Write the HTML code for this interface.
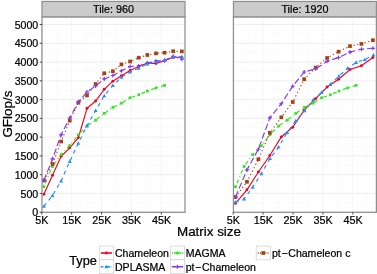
<!DOCTYPE html><html><head><meta charset="utf-8"><title>plot</title><style>html,body{margin:0;padding:0;background:#fff;overflow:hidden}body{width:377px;height:274px;position:relative}</style></head><body><svg width="377" height="274" viewBox="0 0 377 274" style="position:absolute;left:0;top:0" font-family="'Liberation Sans', Arial, sans-serif" fill="#000"><style>text{stroke:#000;stroke-width:0.22px;stroke-linejoin:round}</style>
<rect width="377" height="274" fill="#fff"/>
<rect x="42.0" y="1.45" width="143.0" height="15.650000000000002" fill="#cbcbcb" stroke="#8e8e8e" stroke-width="1.2"/>
<rect x="42.0" y="17.1" width="143.0" height="195.20000000000002" fill="#fff"/>
<line x1="42.0" x2="185.0" y1="202.82" y2="202.82" stroke="#efefef" stroke-width="0.7" stroke-dasharray="1 1.4"/>
<line x1="42.0" x2="185.0" y1="184.05" y2="184.05" stroke="#efefef" stroke-width="0.7" stroke-dasharray="1 1.4"/>
<line x1="42.0" x2="185.0" y1="165.28" y2="165.28" stroke="#efefef" stroke-width="0.7" stroke-dasharray="1 1.4"/>
<line x1="42.0" x2="185.0" y1="146.51" y2="146.51" stroke="#efefef" stroke-width="0.7" stroke-dasharray="1 1.4"/>
<line x1="42.0" x2="185.0" y1="127.75" y2="127.75" stroke="#efefef" stroke-width="0.7" stroke-dasharray="1 1.4"/>
<line x1="42.0" x2="185.0" y1="108.98" y2="108.98" stroke="#efefef" stroke-width="0.7" stroke-dasharray="1 1.4"/>
<line x1="42.0" x2="185.0" y1="90.21" y2="90.21" stroke="#efefef" stroke-width="0.7" stroke-dasharray="1 1.4"/>
<line x1="42.0" x2="185.0" y1="71.44" y2="71.44" stroke="#efefef" stroke-width="0.7" stroke-dasharray="1 1.4"/>
<line x1="42.0" x2="185.0" y1="52.68" y2="52.68" stroke="#efefef" stroke-width="0.7" stroke-dasharray="1 1.4"/>
<line x1="42.0" x2="185.0" y1="33.91" y2="33.91" stroke="#efefef" stroke-width="0.7" stroke-dasharray="1 1.4"/>
<line x1="56.70" x2="56.70" y1="17.1" y2="212.3" stroke="#f1f1f1" stroke-width="0.7" stroke-dasharray="1 1.4"/>
<line x1="86.60" x2="86.60" y1="17.1" y2="212.3" stroke="#f1f1f1" stroke-width="0.7" stroke-dasharray="1 1.4"/>
<line x1="116.50" x2="116.50" y1="17.1" y2="212.3" stroke="#f1f1f1" stroke-width="0.7" stroke-dasharray="1 1.4"/>
<line x1="146.40" x2="146.40" y1="17.1" y2="212.3" stroke="#f1f1f1" stroke-width="0.7" stroke-dasharray="1 1.4"/>
<line x1="176.30" x2="176.30" y1="17.1" y2="212.3" stroke="#f1f1f1" stroke-width="0.7" stroke-dasharray="1 1.4"/>
<line x1="42.0" x2="185.0" y1="212.20" y2="212.20" stroke="#e7e7e7" stroke-width="0.9" stroke-dasharray="2 0.5"/>
<line x1="42.0" x2="185.0" y1="193.43" y2="193.43" stroke="#e7e7e7" stroke-width="0.9" stroke-dasharray="2 0.5"/>
<line x1="42.0" x2="185.0" y1="174.66" y2="174.66" stroke="#e7e7e7" stroke-width="0.9" stroke-dasharray="2 0.5"/>
<line x1="42.0" x2="185.0" y1="155.90" y2="155.90" stroke="#e7e7e7" stroke-width="0.9" stroke-dasharray="2 0.5"/>
<line x1="42.0" x2="185.0" y1="137.13" y2="137.13" stroke="#e7e7e7" stroke-width="0.9" stroke-dasharray="2 0.5"/>
<line x1="42.0" x2="185.0" y1="118.36" y2="118.36" stroke="#e7e7e7" stroke-width="0.9" stroke-dasharray="2 0.5"/>
<line x1="42.0" x2="185.0" y1="99.59" y2="99.59" stroke="#e7e7e7" stroke-width="0.9" stroke-dasharray="2 0.5"/>
<line x1="42.0" x2="185.0" y1="80.83" y2="80.83" stroke="#e7e7e7" stroke-width="0.9" stroke-dasharray="2 0.5"/>
<line x1="42.0" x2="185.0" y1="62.06" y2="62.06" stroke="#e7e7e7" stroke-width="0.9" stroke-dasharray="2 0.5"/>
<line x1="42.0" x2="185.0" y1="43.29" y2="43.29" stroke="#e7e7e7" stroke-width="0.9" stroke-dasharray="2 0.5"/>
<line x1="42.0" x2="185.0" y1="24.53" y2="24.53" stroke="#e7e7e7" stroke-width="0.9" stroke-dasharray="2 0.5"/>
<line x1="41.75" x2="41.75" y1="17.1" y2="212.3" stroke="#e9e9e9" stroke-width="0.9" stroke-dasharray="1 1"/>
<line x1="71.65" x2="71.65" y1="17.1" y2="212.3" stroke="#e9e9e9" stroke-width="0.9" stroke-dasharray="1 1"/>
<line x1="101.55" x2="101.55" y1="17.1" y2="212.3" stroke="#e9e9e9" stroke-width="0.9" stroke-dasharray="1 1"/>
<line x1="131.45" x2="131.45" y1="17.1" y2="212.3" stroke="#e9e9e9" stroke-width="0.9" stroke-dasharray="1 1"/>
<line x1="161.35" x2="161.35" y1="17.1" y2="212.3" stroke="#e9e9e9" stroke-width="0.9" stroke-dasharray="1 1"/>
<clipPath id="c0"><rect x="42.0" y="17.1" width="143.0" height="195.20000000000002"/></clipPath><g clip-path="url(#c0)">
<polyline points="43.90,194.30 52.52,175.30 61.14,156.30 69.76,147.80 78.38,137.60 87.00,108.30 95.62,101.00 104.24,89.30 112.86,81.20 121.48,75.80 130.10,70.50 138.72,66.50 147.34,63.10 155.96,63.50 164.58,60.60 173.20,57.20 181.82,57.20" fill="none" stroke="#f5001f" stroke-width="1.15"/>
<polyline points="43.90,206.30 52.52,195.50 61.14,181.00 69.76,161.40 78.38,143.20 87.00,125.70 95.62,110.60 104.24,95.70 112.86,85.50 121.48,77.20 130.10,72.10 138.72,68.20 147.34,64.00 155.96,61.70 164.58,59.90 173.20,57.00 181.82,56.90" fill="none" stroke="#1e90ff" stroke-width="1.15" stroke-dasharray="3.8 3.8"/>
<polyline points="43.90,186.70 52.52,166.50 61.14,154.60 69.76,145.60 78.38,134.80 87.00,126.00 95.62,120.20 104.24,113.40 112.86,107.40 121.48,103.20 130.10,97.70 138.72,94.80 147.34,91.10 155.96,87.90 164.58,85.40" fill="none" stroke="#2ee61a" stroke-width="1.15" stroke-dasharray="1 2.8 3.8 2.8"/>
<polyline points="43.90,180.40 52.52,158.90 61.14,134.80 69.76,118.00 78.38,101.90 87.00,92.00 95.62,86.00 104.24,78.90 112.86,75.50 121.48,70.70 130.10,66.50 138.72,66.00 147.34,63.10 155.96,61.10 164.58,60.60 173.20,56.40 181.82,59.10" fill="none" stroke="#8438f0" stroke-width="1.15" stroke-dasharray="6.4 2.8"/>
<polyline points="43.90,180.40 52.52,164.00 61.14,141.50 69.76,120.60 78.38,102.70 87.00,95.50 95.62,84.00 104.24,73.30 112.86,71.20 121.48,64.40 130.10,61.50 138.72,57.70 147.34,55.00 155.96,53.40 164.58,52.70 173.20,51.20 181.82,51.40" fill="none" stroke="#a8400f" stroke-width="1.15" stroke-dasharray="1.2 2.6"/>
<circle cx="43.90" cy="194.30" r="1.45" fill="#f5001f"/><circle cx="52.52" cy="175.30" r="1.45" fill="#f5001f"/><circle cx="61.14" cy="156.30" r="1.45" fill="#f5001f"/><circle cx="69.76" cy="147.80" r="1.45" fill="#f5001f"/><circle cx="78.38" cy="137.60" r="1.45" fill="#f5001f"/><circle cx="87.00" cy="108.30" r="1.45" fill="#f5001f"/><circle cx="95.62" cy="101.00" r="1.45" fill="#f5001f"/><circle cx="104.24" cy="89.30" r="1.45" fill="#f5001f"/><circle cx="112.86" cy="81.20" r="1.45" fill="#f5001f"/><circle cx="121.48" cy="75.80" r="1.45" fill="#f5001f"/><circle cx="130.10" cy="70.50" r="1.45" fill="#f5001f"/><circle cx="138.72" cy="66.50" r="1.45" fill="#f5001f"/><circle cx="147.34" cy="63.10" r="1.45" fill="#f5001f"/><circle cx="155.96" cy="63.50" r="1.45" fill="#f5001f"/><circle cx="164.58" cy="60.60" r="1.45" fill="#f5001f"/><circle cx="173.20" cy="57.20" r="1.45" fill="#f5001f"/><circle cx="181.82" cy="57.20" r="1.45" fill="#f5001f"/>
<rect x="42.55" y="185.35" width="2.7" height="2.7" fill="#2ee61a"/><rect x="51.17" y="165.15" width="2.7" height="2.7" fill="#2ee61a"/><rect x="59.79" y="153.25" width="2.7" height="2.7" fill="#2ee61a"/><rect x="68.41" y="144.25" width="2.7" height="2.7" fill="#2ee61a"/><rect x="77.03" y="133.45" width="2.7" height="2.7" fill="#2ee61a"/><rect x="85.65" y="124.65" width="2.7" height="2.7" fill="#2ee61a"/><rect x="94.27" y="118.85" width="2.7" height="2.7" fill="#2ee61a"/><rect x="102.89" y="112.05" width="2.7" height="2.7" fill="#2ee61a"/><rect x="111.51" y="106.05" width="2.7" height="2.7" fill="#2ee61a"/><rect x="120.13" y="101.85" width="2.7" height="2.7" fill="#2ee61a"/><rect x="128.75" y="96.35" width="2.7" height="2.7" fill="#2ee61a"/><rect x="137.37" y="93.45" width="2.7" height="2.7" fill="#2ee61a"/><rect x="145.99" y="89.75" width="2.7" height="2.7" fill="#2ee61a"/><rect x="154.61" y="86.55" width="2.7" height="2.7" fill="#2ee61a"/><rect x="163.23" y="84.05" width="2.7" height="2.7" fill="#2ee61a"/>
<rect x="42.05" y="178.55" width="3.7" height="3.7" fill="#a8400f"/><rect x="50.67" y="162.15" width="3.7" height="3.7" fill="#a8400f"/><rect x="59.29" y="139.65" width="3.7" height="3.7" fill="#a8400f"/><rect x="67.91" y="118.75" width="3.7" height="3.7" fill="#a8400f"/><rect x="76.53" y="100.85" width="3.7" height="3.7" fill="#a8400f"/><rect x="85.15" y="93.65" width="3.7" height="3.7" fill="#a8400f"/><rect x="93.77" y="82.15" width="3.7" height="3.7" fill="#a8400f"/><rect x="102.39" y="71.45" width="3.7" height="3.7" fill="#a8400f"/><rect x="111.01" y="69.35" width="3.7" height="3.7" fill="#a8400f"/><rect x="119.63" y="62.55" width="3.7" height="3.7" fill="#a8400f"/><rect x="128.25" y="59.65" width="3.7" height="3.7" fill="#a8400f"/><rect x="136.87" y="55.85" width="3.7" height="3.7" fill="#a8400f"/><rect x="145.49" y="53.15" width="3.7" height="3.7" fill="#a8400f"/><rect x="154.11" y="51.55" width="3.7" height="3.7" fill="#a8400f"/><rect x="162.73" y="50.85" width="3.7" height="3.7" fill="#a8400f"/><rect x="171.35" y="49.35" width="3.7" height="3.7" fill="#a8400f"/><rect x="179.97" y="49.55" width="3.7" height="3.7" fill="#a8400f"/>
<path d="M41.85 180.40H45.95M43.90 178.35V182.45" stroke="#8438f0" stroke-width="1.15" fill="none"/><path d="M50.47 158.90H54.57M52.52 156.85V160.95" stroke="#8438f0" stroke-width="1.15" fill="none"/><path d="M59.09 134.80H63.19M61.14 132.75V136.85" stroke="#8438f0" stroke-width="1.15" fill="none"/><path d="M67.71 118.00H71.81M69.76 115.95V120.05" stroke="#8438f0" stroke-width="1.15" fill="none"/><path d="M76.33 101.90H80.43M78.38 99.85V103.95" stroke="#8438f0" stroke-width="1.15" fill="none"/><path d="M84.95 92.00H89.05M87.00 89.95V94.05" stroke="#8438f0" stroke-width="1.15" fill="none"/><path d="M93.57 86.00H97.67M95.62 83.95V88.05" stroke="#8438f0" stroke-width="1.15" fill="none"/><path d="M102.19 78.90H106.29M104.24 76.85V80.95" stroke="#8438f0" stroke-width="1.15" fill="none"/><path d="M110.81 75.50H114.91M112.86 73.45V77.55" stroke="#8438f0" stroke-width="1.15" fill="none"/><path d="M119.43 70.70H123.53M121.48 68.65V72.75" stroke="#8438f0" stroke-width="1.15" fill="none"/><path d="M128.05 66.50H132.15M130.10 64.45V68.55" stroke="#8438f0" stroke-width="1.15" fill="none"/><path d="M136.67 66.00H140.77M138.72 63.95V68.05" stroke="#8438f0" stroke-width="1.15" fill="none"/><path d="M145.29 63.10H149.39M147.34 61.05V65.15" stroke="#8438f0" stroke-width="1.15" fill="none"/><path d="M153.91 61.10H158.01M155.96 59.05V63.15" stroke="#8438f0" stroke-width="1.15" fill="none"/><path d="M162.53 60.60H166.63M164.58 58.55V62.65" stroke="#8438f0" stroke-width="1.15" fill="none"/><path d="M171.15 56.40H175.25M173.20 54.35V58.45" stroke="#8438f0" stroke-width="1.15" fill="none"/><path d="M179.77 59.10H183.87M181.82 57.05V61.15" stroke="#8438f0" stroke-width="1.15" fill="none"/>
<path d="M43.90 204.25 L45.85 207.78 L41.95 207.78Z" fill="#1e90ff"/><path d="M52.52 193.45 L54.47 196.98 L50.57 196.98Z" fill="#1e90ff"/><path d="M61.14 178.95 L63.09 182.48 L59.19 182.48Z" fill="#1e90ff"/><path d="M69.76 159.35 L71.71 162.88 L67.81 162.88Z" fill="#1e90ff"/><path d="M78.38 141.15 L80.33 144.68 L76.43 144.68Z" fill="#1e90ff"/><path d="M87.00 123.65 L88.95 127.18 L85.05 127.18Z" fill="#1e90ff"/><path d="M95.62 108.55 L97.57 112.08 L93.67 112.08Z" fill="#1e90ff"/><path d="M104.24 93.65 L106.19 97.18 L102.29 97.18Z" fill="#1e90ff"/><path d="M112.86 83.45 L114.81 86.98 L110.91 86.98Z" fill="#1e90ff"/><path d="M121.48 75.15 L123.43 78.68 L119.53 78.68Z" fill="#1e90ff"/><path d="M130.10 70.05 L132.05 73.58 L128.15 73.58Z" fill="#1e90ff"/><path d="M138.72 66.15 L140.67 69.68 L136.77 69.68Z" fill="#1e90ff"/><path d="M147.34 61.95 L149.29 65.48 L145.39 65.48Z" fill="#1e90ff"/><path d="M155.96 59.65 L157.91 63.18 L154.01 63.18Z" fill="#1e90ff"/><path d="M164.58 57.85 L166.53 61.38 L162.63 61.38Z" fill="#1e90ff"/><path d="M173.20 54.95 L175.15 58.48 L171.25 58.48Z" fill="#1e90ff"/><path d="M181.82 54.85 L183.77 58.38 L179.87 58.38Z" fill="#1e90ff"/>
</g>
<rect x="42.0" y="17.1" width="143.0" height="195.20000000000002" fill="none" stroke="#8e8e8e" stroke-width="1.25"/>
<line x1="41.75" x2="41.75" y1="212.3" y2="214.5" stroke="#333" stroke-width="0.9"/>
<text x="41.95" y="223.5" font-size="10.8" text-anchor="middle">5K</text>
<line x1="71.65" x2="71.65" y1="212.3" y2="214.5" stroke="#333" stroke-width="0.9"/>
<text x="71.85" y="223.5" font-size="10.8" text-anchor="middle">15K</text>
<line x1="101.55" x2="101.55" y1="212.3" y2="214.5" stroke="#333" stroke-width="0.9"/>
<text x="101.75" y="223.5" font-size="10.8" text-anchor="middle">25K</text>
<line x1="131.45" x2="131.45" y1="212.3" y2="214.5" stroke="#333" stroke-width="0.9"/>
<text x="131.65" y="223.5" font-size="10.8" text-anchor="middle">35K</text>
<line x1="161.35" x2="161.35" y1="212.3" y2="214.5" stroke="#333" stroke-width="0.9"/>
<text x="161.55" y="223.5" font-size="10.8" text-anchor="middle">45K</text>
<text x="113.50" y="13.1" font-size="10.8" text-anchor="middle">Tile: 960</text>
<rect x="233.45" y="1.45" width="142.95" height="15.650000000000002" fill="#cbcbcb" stroke="#8e8e8e" stroke-width="1.2"/>
<rect x="233.45" y="17.1" width="142.95" height="195.20000000000002" fill="#fff"/>
<line x1="233.45" x2="376.4" y1="202.82" y2="202.82" stroke="#efefef" stroke-width="0.7" stroke-dasharray="1 1.4"/>
<line x1="233.45" x2="376.4" y1="184.05" y2="184.05" stroke="#efefef" stroke-width="0.7" stroke-dasharray="1 1.4"/>
<line x1="233.45" x2="376.4" y1="165.28" y2="165.28" stroke="#efefef" stroke-width="0.7" stroke-dasharray="1 1.4"/>
<line x1="233.45" x2="376.4" y1="146.51" y2="146.51" stroke="#efefef" stroke-width="0.7" stroke-dasharray="1 1.4"/>
<line x1="233.45" x2="376.4" y1="127.75" y2="127.75" stroke="#efefef" stroke-width="0.7" stroke-dasharray="1 1.4"/>
<line x1="233.45" x2="376.4" y1="108.98" y2="108.98" stroke="#efefef" stroke-width="0.7" stroke-dasharray="1 1.4"/>
<line x1="233.45" x2="376.4" y1="90.21" y2="90.21" stroke="#efefef" stroke-width="0.7" stroke-dasharray="1 1.4"/>
<line x1="233.45" x2="376.4" y1="71.44" y2="71.44" stroke="#efefef" stroke-width="0.7" stroke-dasharray="1 1.4"/>
<line x1="233.45" x2="376.4" y1="52.68" y2="52.68" stroke="#efefef" stroke-width="0.7" stroke-dasharray="1 1.4"/>
<line x1="233.45" x2="376.4" y1="33.91" y2="33.91" stroke="#efefef" stroke-width="0.7" stroke-dasharray="1 1.4"/>
<line x1="248.15" x2="248.15" y1="17.1" y2="212.3" stroke="#f1f1f1" stroke-width="0.7" stroke-dasharray="1 1.4"/>
<line x1="278.05" x2="278.05" y1="17.1" y2="212.3" stroke="#f1f1f1" stroke-width="0.7" stroke-dasharray="1 1.4"/>
<line x1="307.95" x2="307.95" y1="17.1" y2="212.3" stroke="#f1f1f1" stroke-width="0.7" stroke-dasharray="1 1.4"/>
<line x1="337.85" x2="337.85" y1="17.1" y2="212.3" stroke="#f1f1f1" stroke-width="0.7" stroke-dasharray="1 1.4"/>
<line x1="367.75" x2="367.75" y1="17.1" y2="212.3" stroke="#f1f1f1" stroke-width="0.7" stroke-dasharray="1 1.4"/>
<line x1="233.45" x2="376.4" y1="212.20" y2="212.20" stroke="#e7e7e7" stroke-width="0.9" stroke-dasharray="2 0.5"/>
<line x1="233.45" x2="376.4" y1="193.43" y2="193.43" stroke="#e7e7e7" stroke-width="0.9" stroke-dasharray="2 0.5"/>
<line x1="233.45" x2="376.4" y1="174.66" y2="174.66" stroke="#e7e7e7" stroke-width="0.9" stroke-dasharray="2 0.5"/>
<line x1="233.45" x2="376.4" y1="155.90" y2="155.90" stroke="#e7e7e7" stroke-width="0.9" stroke-dasharray="2 0.5"/>
<line x1="233.45" x2="376.4" y1="137.13" y2="137.13" stroke="#e7e7e7" stroke-width="0.9" stroke-dasharray="2 0.5"/>
<line x1="233.45" x2="376.4" y1="118.36" y2="118.36" stroke="#e7e7e7" stroke-width="0.9" stroke-dasharray="2 0.5"/>
<line x1="233.45" x2="376.4" y1="99.59" y2="99.59" stroke="#e7e7e7" stroke-width="0.9" stroke-dasharray="2 0.5"/>
<line x1="233.45" x2="376.4" y1="80.83" y2="80.83" stroke="#e7e7e7" stroke-width="0.9" stroke-dasharray="2 0.5"/>
<line x1="233.45" x2="376.4" y1="62.06" y2="62.06" stroke="#e7e7e7" stroke-width="0.9" stroke-dasharray="2 0.5"/>
<line x1="233.45" x2="376.4" y1="43.29" y2="43.29" stroke="#e7e7e7" stroke-width="0.9" stroke-dasharray="2 0.5"/>
<line x1="233.45" x2="376.4" y1="24.53" y2="24.53" stroke="#e7e7e7" stroke-width="0.9" stroke-dasharray="2 0.5"/>
<line x1="233.20" x2="233.20" y1="17.1" y2="212.3" stroke="#e9e9e9" stroke-width="0.9" stroke-dasharray="1 1"/>
<line x1="263.10" x2="263.10" y1="17.1" y2="212.3" stroke="#e9e9e9" stroke-width="0.9" stroke-dasharray="1 1"/>
<line x1="293.00" x2="293.00" y1="17.1" y2="212.3" stroke="#e9e9e9" stroke-width="0.9" stroke-dasharray="1 1"/>
<line x1="322.90" x2="322.90" y1="17.1" y2="212.3" stroke="#e9e9e9" stroke-width="0.9" stroke-dasharray="1 1"/>
<line x1="352.80" x2="352.80" y1="17.1" y2="212.3" stroke="#e9e9e9" stroke-width="0.9" stroke-dasharray="1 1"/>
<clipPath id="c1"><rect x="233.45" y="17.1" width="142.95" height="195.20000000000002"/></clipPath><g clip-path="url(#c1)">
<polyline points="235.50,203.40 246.95,189.80 258.40,172.00 269.85,155.50 281.30,137.00 292.75,127.20 304.20,110.20 315.65,98.60 327.10,87.00 338.55,79.30 350.00,69.50 361.45,65.70 372.90,57.50" fill="none" stroke="#f5001f" stroke-width="1.15"/>
<polyline points="235.50,202.10 244.12,198.90 252.74,187.20 261.36,173.70 269.98,158.60 278.60,147.00 287.22,132.50 295.84,120.70 304.46,110.70 313.08,100.00 321.70,92.40 330.32,84.40 338.94,76.00 347.56,68.30 356.18,62.40 364.80,59.50 373.42,55.10" fill="none" stroke="#1e90ff" stroke-width="1.15" stroke-dasharray="3.8 3.8"/>
<polyline points="235.50,186.70 244.12,166.50 252.74,154.60 261.36,145.60 269.98,134.80 278.60,126.00 287.22,120.20 295.84,113.40 304.46,107.40 313.08,103.20 321.70,97.70 330.32,94.80 338.94,91.10 347.56,87.90 356.18,85.40" fill="none" stroke="#2ee61a" stroke-width="1.15" stroke-dasharray="1 2.8 3.8 2.8"/>
<polyline points="235.50,197.00 246.95,169.90 258.40,149.20 269.85,117.80 281.30,103.70 292.75,86.20 304.20,72.00 315.65,68.80 327.10,61.30 338.55,57.50 350.00,52.10 361.45,49.20 372.90,48.30" fill="none" stroke="#8438f0" stroke-width="1.15" stroke-dasharray="6.4 2.8"/>
<polyline points="235.50,197.00 246.95,181.80 258.40,159.30 269.85,132.80 281.30,117.30 292.75,102.00 304.20,79.20 315.65,67.60 327.10,58.00 338.55,51.70 350.00,46.10 361.45,43.90 372.90,40.20" fill="none" stroke="#a8400f" stroke-width="1.15" stroke-dasharray="1.2 2.6"/>
<circle cx="235.50" cy="203.40" r="1.45" fill="#f5001f"/><circle cx="246.95" cy="189.80" r="1.45" fill="#f5001f"/><circle cx="258.40" cy="172.00" r="1.45" fill="#f5001f"/><circle cx="269.85" cy="155.50" r="1.45" fill="#f5001f"/><circle cx="281.30" cy="137.00" r="1.45" fill="#f5001f"/><circle cx="292.75" cy="127.20" r="1.45" fill="#f5001f"/><circle cx="304.20" cy="110.20" r="1.45" fill="#f5001f"/><circle cx="315.65" cy="98.60" r="1.45" fill="#f5001f"/><circle cx="327.10" cy="87.00" r="1.45" fill="#f5001f"/><circle cx="338.55" cy="79.30" r="1.45" fill="#f5001f"/><circle cx="350.00" cy="69.50" r="1.45" fill="#f5001f"/><circle cx="361.45" cy="65.70" r="1.45" fill="#f5001f"/><circle cx="372.90" cy="57.50" r="1.45" fill="#f5001f"/>
<rect x="234.15" y="185.35" width="2.7" height="2.7" fill="#2ee61a"/><rect x="242.77" y="165.15" width="2.7" height="2.7" fill="#2ee61a"/><rect x="251.39" y="153.25" width="2.7" height="2.7" fill="#2ee61a"/><rect x="260.01" y="144.25" width="2.7" height="2.7" fill="#2ee61a"/><rect x="268.63" y="133.45" width="2.7" height="2.7" fill="#2ee61a"/><rect x="277.25" y="124.65" width="2.7" height="2.7" fill="#2ee61a"/><rect x="285.87" y="118.85" width="2.7" height="2.7" fill="#2ee61a"/><rect x="294.49" y="112.05" width="2.7" height="2.7" fill="#2ee61a"/><rect x="303.11" y="106.05" width="2.7" height="2.7" fill="#2ee61a"/><rect x="311.73" y="101.85" width="2.7" height="2.7" fill="#2ee61a"/><rect x="320.35" y="96.35" width="2.7" height="2.7" fill="#2ee61a"/><rect x="328.97" y="93.45" width="2.7" height="2.7" fill="#2ee61a"/><rect x="337.59" y="89.75" width="2.7" height="2.7" fill="#2ee61a"/><rect x="346.21" y="86.55" width="2.7" height="2.7" fill="#2ee61a"/><rect x="354.83" y="84.05" width="2.7" height="2.7" fill="#2ee61a"/>
<rect x="233.65" y="195.15" width="3.7" height="3.7" fill="#a8400f"/><rect x="245.10" y="179.95" width="3.7" height="3.7" fill="#a8400f"/><rect x="256.55" y="157.45" width="3.7" height="3.7" fill="#a8400f"/><rect x="268.00" y="130.95" width="3.7" height="3.7" fill="#a8400f"/><rect x="279.45" y="115.45" width="3.7" height="3.7" fill="#a8400f"/><rect x="290.90" y="100.15" width="3.7" height="3.7" fill="#a8400f"/><rect x="302.35" y="77.35" width="3.7" height="3.7" fill="#a8400f"/><rect x="313.80" y="65.75" width="3.7" height="3.7" fill="#a8400f"/><rect x="325.25" y="56.15" width="3.7" height="3.7" fill="#a8400f"/><rect x="336.70" y="49.85" width="3.7" height="3.7" fill="#a8400f"/><rect x="348.15" y="44.25" width="3.7" height="3.7" fill="#a8400f"/><rect x="359.60" y="42.05" width="3.7" height="3.7" fill="#a8400f"/><rect x="371.05" y="38.35" width="3.7" height="3.7" fill="#a8400f"/>
<path d="M233.45 197.00H237.55M235.50 194.95V199.05" stroke="#8438f0" stroke-width="1.15" fill="none"/><path d="M244.90 169.90H249.00M246.95 167.85V171.95" stroke="#8438f0" stroke-width="1.15" fill="none"/><path d="M256.35 149.20H260.45M258.40 147.15V151.25" stroke="#8438f0" stroke-width="1.15" fill="none"/><path d="M267.80 117.80H271.90M269.85 115.75V119.85" stroke="#8438f0" stroke-width="1.15" fill="none"/><path d="M279.25 103.70H283.35M281.30 101.65V105.75" stroke="#8438f0" stroke-width="1.15" fill="none"/><path d="M290.70 86.20H294.80M292.75 84.15V88.25" stroke="#8438f0" stroke-width="1.15" fill="none"/><path d="M302.15 72.00H306.25M304.20 69.95V74.05" stroke="#8438f0" stroke-width="1.15" fill="none"/><path d="M313.60 68.80H317.70M315.65 66.75V70.85" stroke="#8438f0" stroke-width="1.15" fill="none"/><path d="M325.05 61.30H329.15M327.10 59.25V63.35" stroke="#8438f0" stroke-width="1.15" fill="none"/><path d="M336.50 57.50H340.60M338.55 55.45V59.55" stroke="#8438f0" stroke-width="1.15" fill="none"/><path d="M347.95 52.10H352.05M350.00 50.05V54.15" stroke="#8438f0" stroke-width="1.15" fill="none"/><path d="M359.40 49.20H363.50M361.45 47.15V51.25" stroke="#8438f0" stroke-width="1.15" fill="none"/><path d="M370.85 48.30H374.95M372.90 46.25V50.35" stroke="#8438f0" stroke-width="1.15" fill="none"/>
<path d="M235.50 200.05 L237.45 203.58 L233.55 203.58Z" fill="#1e90ff"/><path d="M244.12 196.85 L246.07 200.38 L242.17 200.38Z" fill="#1e90ff"/><path d="M252.74 185.15 L254.69 188.68 L250.79 188.68Z" fill="#1e90ff"/><path d="M261.36 171.65 L263.31 175.18 L259.41 175.18Z" fill="#1e90ff"/><path d="M269.98 156.55 L271.93 160.08 L268.03 160.08Z" fill="#1e90ff"/><path d="M278.60 144.95 L280.55 148.48 L276.65 148.48Z" fill="#1e90ff"/><path d="M287.22 130.45 L289.17 133.98 L285.27 133.98Z" fill="#1e90ff"/><path d="M295.84 118.65 L297.79 122.18 L293.89 122.18Z" fill="#1e90ff"/><path d="M304.46 108.65 L306.41 112.18 L302.51 112.18Z" fill="#1e90ff"/><path d="M313.08 97.95 L315.03 101.48 L311.13 101.48Z" fill="#1e90ff"/><path d="M321.70 90.35 L323.65 93.88 L319.75 93.88Z" fill="#1e90ff"/><path d="M330.32 82.35 L332.27 85.88 L328.37 85.88Z" fill="#1e90ff"/><path d="M338.94 73.95 L340.89 77.48 L336.99 77.48Z" fill="#1e90ff"/><path d="M347.56 66.25 L349.51 69.78 L345.61 69.78Z" fill="#1e90ff"/><path d="M356.18 60.35 L358.13 63.88 L354.23 63.88Z" fill="#1e90ff"/><path d="M364.80 57.45 L366.75 60.98 L362.85 60.98Z" fill="#1e90ff"/><path d="M373.42 53.05 L375.37 56.58 L371.47 56.58Z" fill="#1e90ff"/>
</g>
<rect x="233.45" y="17.1" width="142.95" height="195.20000000000002" fill="none" stroke="#8e8e8e" stroke-width="1.25"/>
<line x1="233.20" x2="233.20" y1="212.3" y2="214.5" stroke="#333" stroke-width="0.9"/>
<text x="233.40" y="223.5" font-size="10.8" text-anchor="middle">5K</text>
<line x1="263.10" x2="263.10" y1="212.3" y2="214.5" stroke="#333" stroke-width="0.9"/>
<text x="263.30" y="223.5" font-size="10.8" text-anchor="middle">15K</text>
<line x1="293.00" x2="293.00" y1="212.3" y2="214.5" stroke="#333" stroke-width="0.9"/>
<text x="293.20" y="223.5" font-size="10.8" text-anchor="middle">25K</text>
<line x1="322.90" x2="322.90" y1="212.3" y2="214.5" stroke="#333" stroke-width="0.9"/>
<text x="323.10" y="223.5" font-size="10.8" text-anchor="middle">35K</text>
<line x1="352.80" x2="352.80" y1="212.3" y2="214.5" stroke="#333" stroke-width="0.9"/>
<text x="353.00" y="223.5" font-size="10.8" text-anchor="middle">45K</text>
<text x="304.92" y="13.1" font-size="10.8" text-anchor="middle">Tile: 1920</text>
<line x1="39.7" x2="42" y1="212.20" y2="212.20" stroke="#333" stroke-width="0.9"/>
<text x="38.25" y="216.30" font-size="10.6" text-anchor="end">0</text>
<line x1="39.7" x2="42" y1="193.43" y2="193.43" stroke="#333" stroke-width="0.9"/>
<text x="38.25" y="197.53" font-size="10.6" text-anchor="end">500</text>
<line x1="39.7" x2="42" y1="174.66" y2="174.66" stroke="#333" stroke-width="0.9"/>
<text x="38.25" y="178.76" font-size="10.6" text-anchor="end">1000</text>
<line x1="39.7" x2="42" y1="155.90" y2="155.90" stroke="#333" stroke-width="0.9"/>
<text x="38.25" y="160.00" font-size="10.6" text-anchor="end">1500</text>
<line x1="39.7" x2="42" y1="137.13" y2="137.13" stroke="#333" stroke-width="0.9"/>
<text x="38.25" y="141.23" font-size="10.6" text-anchor="end">2000</text>
<line x1="39.7" x2="42" y1="118.36" y2="118.36" stroke="#333" stroke-width="0.9"/>
<text x="38.25" y="122.46" font-size="10.6" text-anchor="end">2500</text>
<line x1="39.7" x2="42" y1="99.59" y2="99.59" stroke="#333" stroke-width="0.9"/>
<text x="38.25" y="103.69" font-size="10.6" text-anchor="end">3000</text>
<line x1="39.7" x2="42" y1="80.83" y2="80.83" stroke="#333" stroke-width="0.9"/>
<text x="38.25" y="84.93" font-size="10.6" text-anchor="end">3500</text>
<line x1="39.7" x2="42" y1="62.06" y2="62.06" stroke="#333" stroke-width="0.9"/>
<text x="38.25" y="66.16" font-size="10.6" text-anchor="end">4000</text>
<line x1="39.7" x2="42" y1="43.29" y2="43.29" stroke="#333" stroke-width="0.9"/>
<text x="38.25" y="47.39" font-size="10.6" text-anchor="end">4500</text>
<line x1="39.7" x2="42" y1="24.53" y2="24.53" stroke="#333" stroke-width="0.9"/>
<text x="38.25" y="28.63" font-size="10.6" text-anchor="end">5000</text>
<text transform="translate(11.5,114.1) rotate(-90)" font-size="13.45" text-anchor="middle">GFlop/s</text>
<text x="209" y="235.9" font-size="13.4" text-anchor="middle">Matrix size</text>
<text x="69.2" y="264.6" font-size="12.8">Type</text>
<rect x="99.3" y="246.1" width="14.1" height="13.7" fill="#fff" stroke="#d4d4d4" stroke-width="0.8"/><line x1="100.80" x2="112.10" y1="253.00" y2="253.00" stroke="#f5001f" stroke-width="1.5499999999999998"/><circle cx="106.35" cy="253.00" r="1.45" fill="#f5001f"/>
<rect x="99.3" y="259.8" width="14.1" height="13.7" fill="#fff" stroke="#d4d4d4" stroke-width="0.8"/><line x1="100.80" x2="112.10" y1="266.70" y2="266.70" stroke="#1e90ff" stroke-width="1.5499999999999998" stroke-dasharray="2.6 1.6 5.2 1.4 2"/><path d="M106.35 264.65 L108.30 268.18 L104.40 268.18Z" fill="#1e90ff"/>
<rect x="170.4" y="246.1" width="14.1" height="13.7" fill="#fff" stroke="#d4d4d4" stroke-width="0.8"/><line x1="171.90" x2="183.20" y1="253.00" y2="253.00" stroke="#2ee61a" stroke-width="1.5499999999999998" stroke-dasharray="1.2 1 6.8 1.1 1.2 5"/><rect x="176.10" y="251.65" width="2.7" height="2.7" fill="#2ee61a"/>
<rect x="170.4" y="259.8" width="14.1" height="13.7" fill="#fff" stroke="#d4d4d4" stroke-width="0.8"/><line x1="171.90" x2="183.20" y1="266.70" y2="266.70" stroke="#8438f0" stroke-width="1.5499999999999998"/><path d="M175.40 266.70H179.50M177.45 264.65V268.75" stroke="#8438f0" stroke-width="1.15" fill="none"/>
<rect x="256.2" y="246.1" width="14.1" height="13.7" fill="#fff" stroke="#d4d4d4" stroke-width="0.8"/><line x1="257.70" x2="269.00" y1="253.00" y2="253.00" stroke="#a8400f" stroke-width="1.5499999999999998" stroke-dasharray="1 1.3 1 4.4 1 1.2 1 5"/><rect x="261.40" y="251.15" width="3.7" height="3.7" fill="#a8400f"/>
<text x="115.0" y="257.1" font-size="10.55">Chameleon</text>
<text x="115.0" y="270.7" font-size="10.55">DPLASMA</text>
<text x="185.7" y="257.1" font-size="10.55">MAGMA</text>
<text x="185.7" y="270.7" font-size="10.55">pt<tspan dx="0.6">−</tspan><tspan dx="0.7">Chameleon</tspan></text>
<text x="272.0" y="257.1" font-size="10.55">pt<tspan dx="0.6">−</tspan><tspan dx="0.7">Chameleon c</tspan></text>
</svg></body></html>
